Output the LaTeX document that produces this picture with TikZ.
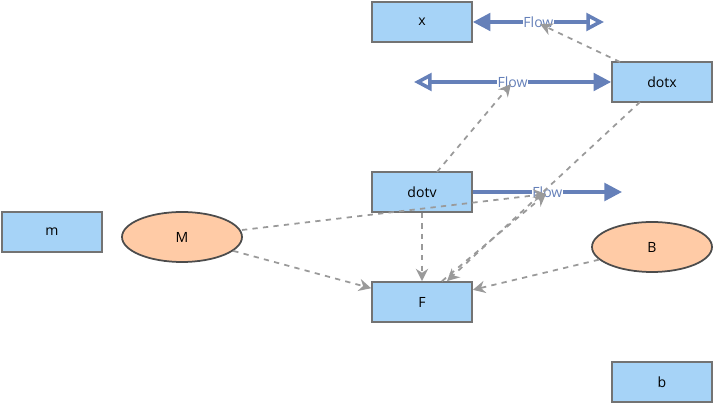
\documentclass[tikz,border=0pt]{standalone}
\usepackage{fontspec}
\setmainfont{Open Sans}
\usetikzlibrary{arrows.meta,shapes.geometric}
\definecolor{boxfill}{HTML}{A6D3F7}
\definecolor{ellfill}{HTML}{FFCBA6}
\definecolor{flowblue}{HTML}{6580B9}
\definecolor{linkgray}{HTML}{9A9A9A}

\begin{document}
\begin{tikzpicture}[x=0.02cm,y=-0.02cm,font=\fontsize{8}{9}\selectfont,
  box/.style={draw=gray!110,line width=1pt,fill=boxfill,minimum width=2cm,minimum height=0.8cm,inner sep=0pt},
  ell/.style={ellipse,draw=gray!140,line width=1pt,fill=ellfill,minimum width=2.4cm,minimum height=1cm,inner sep=0pt},
  flow/.style={draw=flowblue,line width=2pt},
  flowlbl/.style={text=flowblue,fill=white,inner sep=0.5pt},
  link/.style={draw=linkgray,dashed,line width=1pt,-{Stealth[length=7pt,width=7pt]}}]
\useasboundingbox (0,0) rectangle (714,404);

\node[box] (x) at (422,22) {x};
\node[box] (dotx) at (662,82) {dotx};
\node[box] (dotv) at (422,192) {dotv};
\node[box] (m) at (52,232) {m};
\node[ell] (M) at (182,237) {M};
\node[box] (F) at (422,302) {F};
\node[ell] (B) at (652,247) {B};
\node[box] (b) at (662,382) {b};

% flows
\coordinate (xend) at (604,22);
\coordinate (dotxend) at (414,82);
\coordinate (dotvend) at (622,192);
\draw[flow,{Triangle[length=10pt,width=10pt]}-{Triangle[open,length=10pt,width=10pt,fill=white]}] (x) -- (xend)
  node[flowlbl,pos=0.5] (f1) {Flow};
\draw[flow,{Triangle[open,length=10pt,width=10pt,fill=white]}-{Triangle[length=10pt,width=10pt]}] (dotxend) -- (dotx)
  node[flowlbl,pos=0.5] (f2) {Flow};
\draw[flow,-{Triangle[length=10pt,width=10pt]}] (dotv) -- (dotvend)
  node[flowlbl,pos=0.5] (f3) {Flow};

% links
\coordinate (f1c) at (540,24);
\coordinate (f2c) at (511,84);
\coordinate (f3c) at (546,194);
\coordinate (a1) at (620,62);
\coordinate (a2) at (437,172);
\coordinate (a3) at (242,230);
\coordinate (a4) at (640,102);
\draw[link] (a1) -- (f1c);
\draw[link] (a2) -- (f2c);
\draw[link] (a3) -- (f3c);
\draw[link] (a4) -- ([xshift=0.5cm]F.north);
\draw[link] ([xshift=0.4cm]F.north) -- (f3c);
\draw[link] (dotv) -- (F);
\draw[link] (M) -- (F);
\draw[link] (B) -- (F);
\end{tikzpicture}
\end{document}
